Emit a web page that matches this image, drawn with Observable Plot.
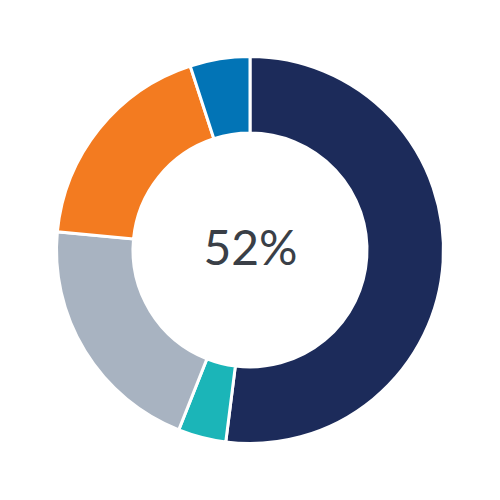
<!DOCTYPE html>
<html>
<head>
<meta charset="utf-8">
<script src="https://cdn.jsdelivr.net/npm/d3@7"></script>
<script src="https://cdn.jsdelivr.net/npm/@observablehq/plot@0.6"></script>
<style>
  html, body { margin: 0; padding: 0; background: #fff; }
</style>
</head>
<body>
<div id="chart"></div>
<script>
const categories = ["A", "B", "C", "D", "E"];
const values = [52, 4, 20.5, 18.5, 5];
const colors = ["#1c2b5a", "#1bb5b8", "#a8b3c1", "#f37b20", "#0274b6"];
const centerLabel = ["52%"];

const data = categories.map((c, i) => ({category: c, value: values[i], color: colors[i]}));

const outerR = 0.774;
const innerR = 0.468;

function donut(index, scales, vals, dimensions, context) {
  const cx = scales.x(0), cy = scales.y(0);
  const ro = Math.abs(scales.x(outerR) - cx);
  const ri = Math.abs(scales.x(innerR) - cx);
  const arcs = d3.pie().sort(null).value(d => d.value)(data);
  const arc = d3.arc().innerRadius(ri).outerRadius(ro);
  const g = d3.create("svg:g").attr("transform", `translate(${cx},${cy})`);
  g.selectAll("path").data(arcs).join("path")
    .attr("d", arc)
    .attr("fill", d => d.data.color)
    .attr("stroke", "#fff")
    .attr("stroke-width", 3)
    .attr("stroke-linejoin", "miter");
  return g.node();
}

const chart = Plot.plot({
  width: 500,
  height: 500,
  margin: 0,
  x: {domain: [-1, 1], axis: null},
  y: {domain: [-1, 1], axis: null},
  style: {background: "#fff"},
  marks: [
    donut,
    Plot.text(centerLabel, {
      x: () => 0, y: () => 0, text: d => d,
      fontSize: 48, fontFamily: "Lato", fill: "#3a3f47", dy: -1
    })
  ]
});
document.getElementById("chart").appendChild(chart);
</script>
</body>
</html>
